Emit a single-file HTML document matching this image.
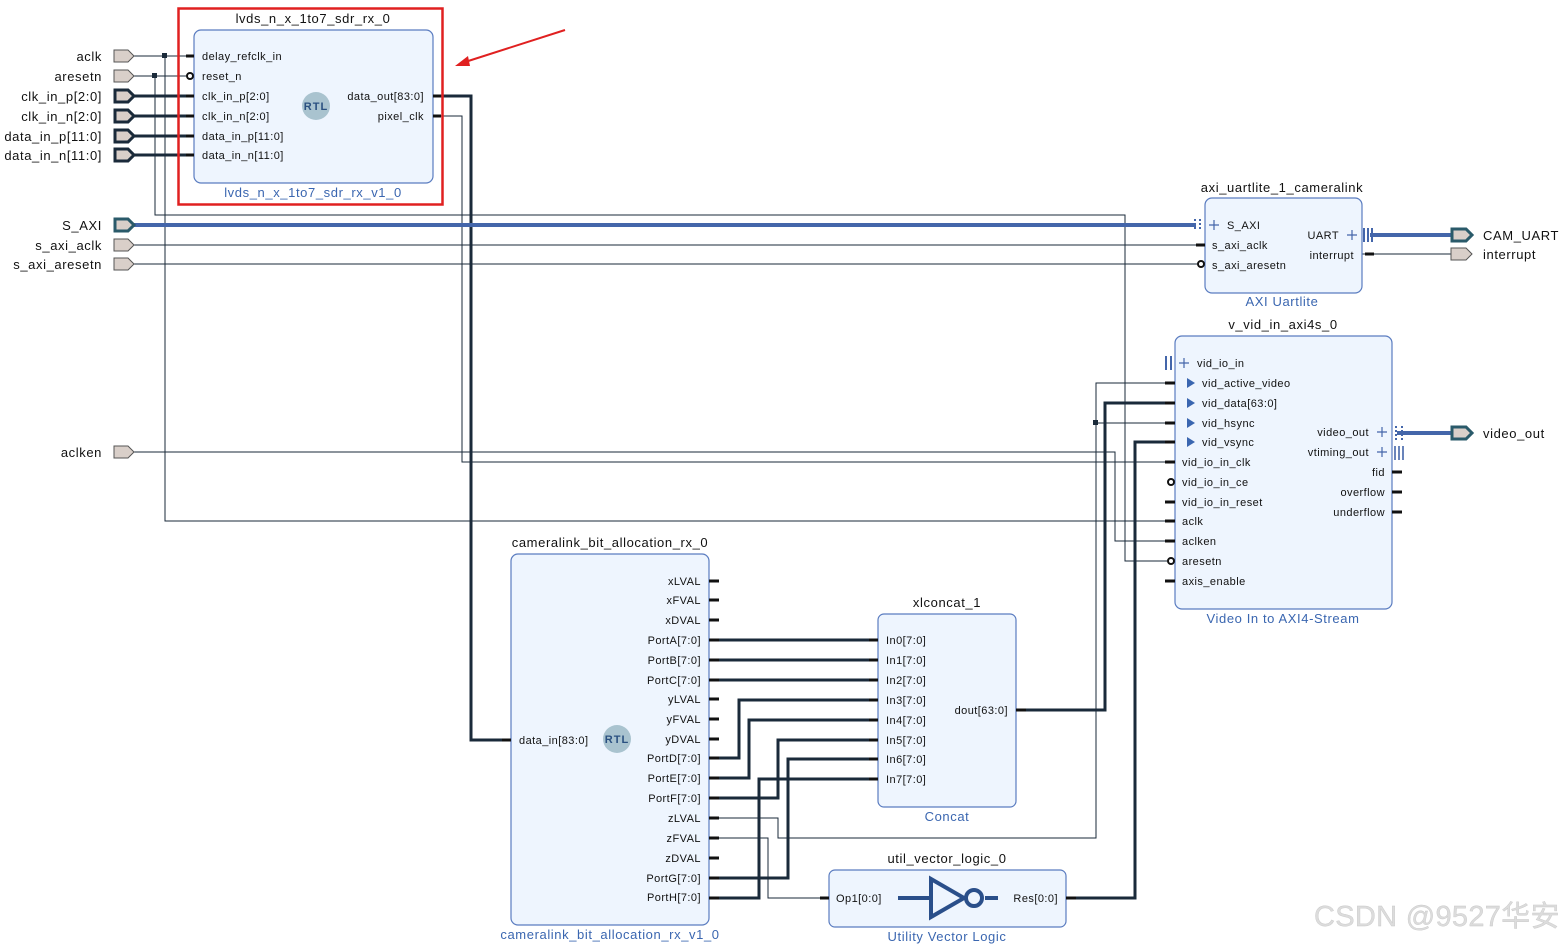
<!DOCTYPE html>
<html><head><meta charset="utf-8"><style>
html,body{margin:0;padding:0;background:#fff;width:1566px;height:944px;overflow:hidden}
svg{display:block}
text{font-family:"Liberation Sans","Noto Sans CJK SC",sans-serif;fill:#111}
.p{font-size:11px;letter-spacing:0.45px}
.t{font-size:13px;letter-spacing:0.6px}
.l{font-size:13px;fill:#3a66b0;letter-spacing:0.6px}
.box{fill:#eef5fe;stroke:#5a7cc0;stroke-width:1.2}
.w{stroke:#1a2a3a;stroke-width:1;fill:none}
.b{stroke:#1a2a3a;stroke-width:3;fill:none}
.s{stroke:#111;stroke-width:3}
.ip{fill:#d9cfc9;stroke:#555;stroke-width:1}
.ipb{fill:#d9cfc9;stroke:#1a2a3a;stroke-width:3}
.ipa{fill:#d9cfc9;stroke:#2a5a6a;stroke-width:3}
.bus{stroke:#4466aa;stroke-width:4;fill:none}
</style></head><body>
<svg width="1566" height="944" viewBox="0 0 1566 944" xmlns="http://www.w3.org/2000/svg">
<g>
<path class="w" d="M134 56H194M165 56V521H1175"/>
<path class="w" d="M134 76H188M155 76V215H1125V561H1170"/>
<path class="b" d="M134 96H194M134 116H194M134 136H194M134 155H194"/>
<path class="b" d="M433 96H471V740H511"/>
<path class="w" d="M433 116H462V462H1175"/>
<path class="bus" d="M134 225H1196"/>
<path class="w" d="M134 245H1205M134 264H1198"/>
<path class="w" d="M134 452H1115V541H1175"/>
<path class="w" d="M1175 383H1096V838H778V818H709M1096 423H1175"/>
<path class="b" d="M1175 403H1105V710H1016"/>
<path class="b" d="M1175 442H1135V898H1066"/>
<path class="w" d="M709 838H768V898H829"/>
<path class="b" d="M709 640H878M709 660H878M709 680H878"/>
<path class="b" d="M709 758H739V700H878M709 778H749V720H878M709 798H778V740H878M709 878H788V759H878M709 898H759V779H878"/>
<path class="bus" d="M1370 235H1451M1397 433H1451"/>
<path class="w" d="M1362 254H1451"/>
<rect x="162" y="53" width="5" height="5" fill="#1a2a3a"/>
<rect x="152" y="73" width="5" height="5" fill="#1a2a3a"/>
<rect x="1093" y="420" width="5" height="5" fill="#1a2a3a"/>
</g>
<g>
<polygon class="ip" points="114,50 128,50 134,56 128,62 114,62"/>
<polygon class="ip" points="114,70 128,70 134,76 128,82 114,82"/>
<polygon class="ipb" points="115,90 128,90 134,96 128,102 115,102"/>
<polygon class="ipb" points="115,110 128,110 134,116 128,122 115,122"/>
<polygon class="ipb" points="115,130 128,130 134,136 128,142 115,142"/>
<polygon class="ipb" points="115,149 128,149 134,155 128,161 115,161"/>
<polygon class="ipa" points="115,219 128,219 134,225 128,231 115,231"/>
<polygon class="ip" points="114,239 128,239 134,245 128,251 114,251"/>
<polygon class="ip" points="114,258 128,258 134,264 128,270 114,270"/>
<polygon class="ip" points="114,446 128,446 134,452 128,458 114,458"/>
<polygon class="ipa" points="1452,229 1466,229 1472,235 1466,241 1452,241"/>
<polygon class="ip" points="1451,248 1466,248 1472,254 1466,260 1451,260"/>
<polygon class="ipa" points="1452,427 1466,427 1472,433 1466,439 1452,439"/>
</g>
<g class="t" text-anchor="end">
<text x="102" y="61">aclk</text><text x="102" y="81">aresetn</text>
<text x="102" y="101">clk_in_p[2:0]</text><text x="102" y="121">clk_in_n[2:0]</text>
<text x="102" y="141">data_in_p[11:0]</text><text x="102" y="160">data_in_n[11:0]</text>
<text x="102" y="230">S_AXI</text><text x="102" y="250">s_axi_aclk</text>
<text x="102" y="269">s_axi_aresetn</text><text x="102" y="457">aclken</text>
</g>
<g class="t"><text x="1483" y="240">CAM_UART</text><text x="1483" y="259">interrupt</text><text x="1483" y="438">video_out</text></g>

<rect x="178.5" y="8.5" width="264" height="196" fill="none" stroke="#e02020" stroke-width="2.5"/>
<line x1="565" y1="30" x2="462" y2="63" stroke="#e02020" stroke-width="2"/>
<polygon points="455,66 468,56 470,66" fill="#e02020"/>
<text class="t" x="313" y="23" text-anchor="middle">lvds_n_x_1to7_sdr_rx_0</text>
<rect class="box" x="194" y="30" width="239" height="153" rx="7"/>
<text class="l" x="313" y="197" text-anchor="middle">lvds_n_x_1to7_sdr_rx_v1_0</text>
<g class="s"><path d="M186 56H194M186 96H194M186 116H194M186 136H194M186 155H194M433 96H441M433 116H441"/></g>
<circle cx="190" cy="76" r="3" fill="#fff" stroke="#111" stroke-width="2"/>
<g class="p"><text x="202" y="60">delay_refclk_in</text><text x="202" y="80">reset_n</text>
<text x="202" y="100">clk_in_p[2:0]</text><text x="202" y="120">clk_in_n[2:0]</text>
<text x="202" y="140">data_in_p[11:0]</text><text x="202" y="159">data_in_n[11:0]</text>
<text x="424" y="100" text-anchor="end">data_out[83:0]</text><text x="424" y="120" text-anchor="end">pixel_clk</text></g>
<circle cx="316" cy="106" r="14" fill="#a9c3cf"/><text x="316" y="110" text-anchor="middle" style="font-size:11px;font-weight:bold;fill:#2a5080;letter-spacing:1px">RTL</text>

<text class="t" x="1282" y="192" text-anchor="middle">axi_uartlite_1_cameralink</text>
<rect class="box" x="1205" y="198" width="157" height="95" rx="7"/>
<text class="l" x="1282" y="306" text-anchor="middle">AXI Uartlite</text>
<path d="M1195 219V231M1200 219V231" stroke="#4466aa" stroke-width="2" stroke-dasharray="2,2"/>
<path d="M1196 245H1205M1365 254H1374" class="s"/>
<circle cx="1201" cy="264" r="3" fill="#fff" stroke="#111" stroke-width="2"/>
<path d="M1364 228V242M1368 228V242M1372 228V242" stroke="#4466aa" stroke-width="2"/>
<path d="M1209 225H1219M1214 220V230M1347 235H1357M1352 230V240" stroke="#4466aa" stroke-width="1.2"/>
<g class="p"><text x="1227" y="229">S_AXI</text><text x="1212" y="249">s_axi_aclk</text><text x="1212" y="269">s_axi_aresetn</text>
<text x="1339" y="239" text-anchor="end">UART</text><text x="1354" y="259" text-anchor="end">interrupt</text></g>

<text class="t" x="1283" y="329" text-anchor="middle">v_vid_in_axi4s_0</text>
<rect class="box" x="1175" y="336" width="217" height="273" rx="7"/>
<text class="l" x="1283" y="623" text-anchor="middle">Video In to AXI4-Stream</text>
<path d="M1166 356V370M1171 356V370" stroke="#4466aa" stroke-width="2"/>
<path d="M1179 363H1189M1184 358V368M1377 432H1387M1382 427V437M1377 452H1387M1382 447V457" stroke="#4466aa" stroke-width="1.2"/>
<path d="M1396 426V440M1402 426V440" stroke="#4466aa" stroke-width="2" stroke-dasharray="2,2"/>
<path d="M1395 446V460M1399 446V460M1403 446V460" stroke="#4466aa" stroke-width="1.6"/>
<g fill="#3a66b0"><polygon points="1187,378 1195,383 1187,388"/><polygon points="1187,398 1195,403 1187,408"/><polygon points="1187,418 1195,423 1187,428"/><polygon points="1187,437 1195,442 1187,447"/></g>
<g class="s"><path d="M1165 383H1175M1165 403H1175M1165 423H1175M1165 442H1175M1165 462H1175M1165 502H1175M1165 521H1175M1165 541H1175M1165 581H1175M1392 472H1402M1392 492H1402M1392 512H1402"/></g>
<circle cx="1171" cy="482" r="3" fill="#fff" stroke="#111" stroke-width="2"/>
<circle cx="1171" cy="561" r="3" fill="#fff" stroke="#111" stroke-width="2"/>
<g class="p"><text x="1197" y="367">vid_io_in</text><text x="1202" y="387">vid_active_video</text><text x="1202" y="407">vid_data[63:0]</text>
<text x="1202" y="427">vid_hsync</text><text x="1202" y="446">vid_vsync</text><text x="1182" y="466">vid_io_in_clk</text>
<text x="1182" y="486">vid_io_in_ce</text><text x="1182" y="506">vid_io_in_reset</text><text x="1182" y="525">aclk</text>
<text x="1182" y="545">aclken</text><text x="1182" y="565">aresetn</text><text x="1182" y="585">axis_enable</text>
<g text-anchor="end"><text x="1369" y="436">video_out</text><text x="1369" y="456">vtiming_out</text><text x="1385" y="476">fid</text><text x="1385" y="496">overflow</text><text x="1385" y="516">underflow</text></g></g>

<text class="t" x="610" y="547" text-anchor="middle">cameralink_bit_allocation_rx_0</text>
<rect class="box" x="511" y="554" width="198" height="371" rx="7"/>
<text class="l" x="610" y="939" text-anchor="middle">cameralink_bit_allocation_rx_v1_0</text>
<circle cx="617" cy="739" r="14" fill="#a9c3cf"/><text x="617" y="743" text-anchor="middle" style="font-size:11px;font-weight:bold;fill:#2a5080;letter-spacing:1px">RTL</text>
<g class="s"><path d="M502 740H511M709 581H719M709 600H719M709 620H719M709 640H719M709 660H719M709 680H719M709 699H719M709 719H719M709 739H719M709 758H719M709 778H719M709 798H719M709 818H719M709 838H719M709 858H719M709 878H719M709 898H719"/></g>
<g class="p"><text x="519" y="744">data_in[83:0]</text>
<g text-anchor="end"><text x="701" y="585">xLVAL</text><text x="701" y="604">xFVAL</text><text x="701" y="624">xDVAL</text><text x="701" y="644">PortA[7:0]</text><text x="701" y="664">PortB[7:0]</text><text x="701" y="684">PortC[7:0]</text><text x="701" y="703">yLVAL</text><text x="701" y="723">yFVAL</text><text x="701" y="743">yDVAL</text><text x="701" y="762">PortD[7:0]</text><text x="701" y="782">PortE[7:0]</text><text x="701" y="802">PortF[7:0]</text><text x="701" y="822">zLVAL</text><text x="701" y="842">zFVAL</text><text x="701" y="862">zDVAL</text><text x="701" y="882">PortG[7:0]</text><text x="701" y="901">PortH[7:0]</text></g></g>

<text class="t" x="947" y="607" text-anchor="middle">xlconcat_1</text>
<rect class="box" x="878" y="614" width="138" height="193" rx="6"/>
<text class="l" x="947" y="821" text-anchor="middle">Concat</text>
<g class="s"><path d="M869 640H878M869 660H878M869 680H878M869 700H878M869 720H878M869 740H878M869 759H878M869 779H878M1016 710H1026"/></g>
<g class="p"><text x="886" y="644">In0[7:0]</text><text x="886" y="664">In1[7:0]</text><text x="886" y="684">In2[7:0]</text><text x="886" y="704">In3[7:0]</text><text x="886" y="724">In4[7:0]</text><text x="886" y="744">In5[7:0]</text><text x="886" y="763">In6[7:0]</text><text x="886" y="783">In7[7:0]</text><text x="1008" y="714" text-anchor="end">dout[63:0]</text></g>

<text class="t" x="947" y="863" text-anchor="middle">util_vector_logic_0</text>
<rect class="box" x="829" y="870" width="237" height="57" rx="6"/>
<text class="l" x="947" y="941" text-anchor="middle">Utility Vector Logic</text>
<g class="s"><path d="M820 898H829M1066 898H1076"/></g>
<g stroke="#2a4f8a" stroke-width="4" fill="none"><path d="M898 898H930M985 898H998"/><polygon points="931,879 931,917 964,898"/><circle cx="974" cy="898" r="8"/></g>
<g class="p"><text x="836" y="902">Op1[0:0]</text><text x="1058" y="902" text-anchor="end">Res[0:0]</text></g>

<text x="1314" y="926" style="font-size:29px;fill:#dcdcdc;stroke:#c8c8c8;stroke-width:0.4;letter-spacing:0.3px">CSDN @9527华安</text>
</svg>
</body></html>
